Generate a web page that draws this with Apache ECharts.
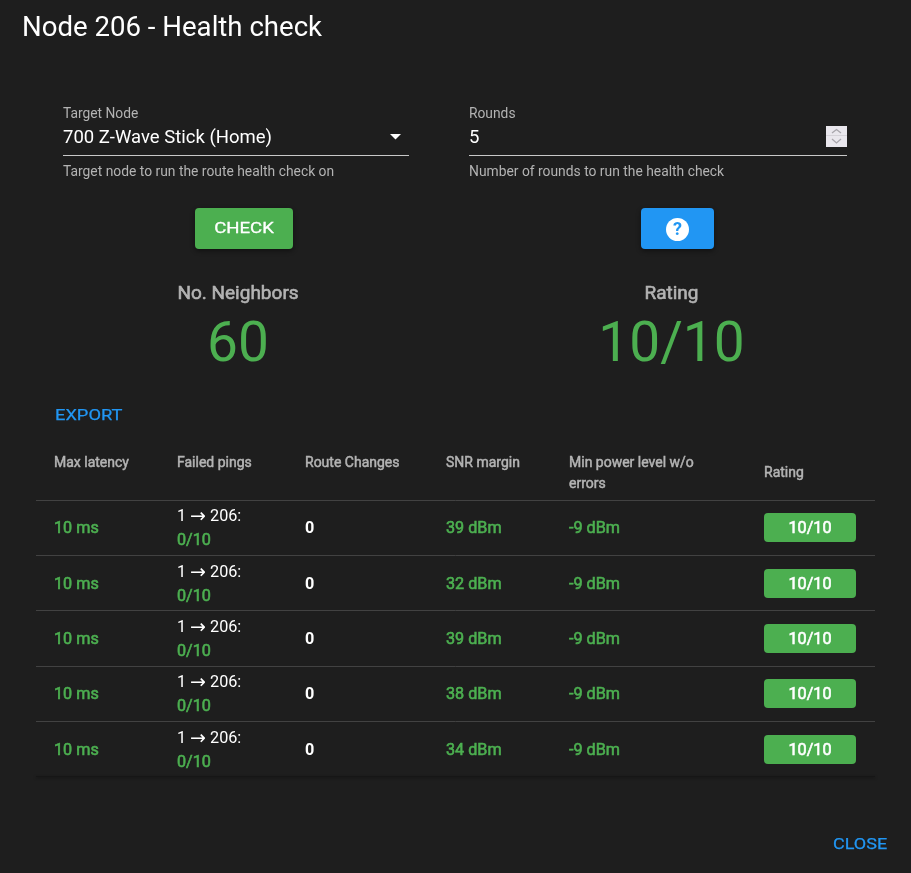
<!DOCTYPE html>
<html>
<head>
<meta charset="utf-8">
<title>Node 206 - Health check</title>
<style>
html, body { margin: 0; padding: 0; background: #1e1e1e; }
#main { width: 911px; height: 873px; }
</style>
<script src="https://cdn.jsdelivr.net/npm/echarts@6/dist/echarts.min.js"></script>
</head>
<body>
<div id="main"></div>
<script>
var dialogTitle = 'Node 206 - Health check';
var targetNode = '700 Z-Wave Stick (Home)';
var rounds = '5';
var neighbors = '60';
var overallRating = '10/10';

var columnTitles = ['Max latency', 'Failed pings', 'Route Changes', 'SNR margin', 'Min power level w/o\nerrors', 'Rating'];
var rowNames = ['Round 1', 'Round 2', 'Round 3', 'Round 4', 'Round 5'];
var latency = ['10 ms', '10 ms', '10 ms', '10 ms', '10 ms'];
var pingRoute = ['1 → 206:', '1 → 206:', '1 → 206:', '1 → 206:', '1 → 206:'];
var failedPings = ['0/10', '0/10', '0/10', '0/10', '0/10'];
var routeChanges = ['0', '0', '0', '0', '0'];
var snrMargin = ['39 dBm', '32 dBm', '39 dBm', '38 dBm', '34 dBm'];
var minPower = ['-9 dBm', '-9 dBm', '-9 dBm', '-9 dBm', '-9 dBm'];
var rowRating = ['10/10', '10/10', '10/10', '10/10', '10/10'];

var FONT = 'Roboto';
var GREEN = '#4caf50', BLUE = '#2196f3', GREY = '#b3b3b3', WHITE = '#ffffff';
var colX = [54, 177, 305, 446, 569, 764];

function txt(x, y, text, size, color, opt) {
    opt = opt || {};
    var style = {
        text: text, fill: color, fontFamily: FONT,
        fontSize: size, fontWeight: opt.weight || 400,
        lineHeight: opt.lineHeight,
        align: opt.align || 'left', verticalAlign: 'middle'
    };
    // 中等字重：没有 500 的字体，用细描边补一点
    if (opt.medium) {
        style.stroke = color;
        style.lineWidth = opt.medium;
    }
    if (opt.rich) style.rich = opt.rich;
    return { type: 'text', x: x, y: y + 2.5, scaleX: opt.scaleX || 1, silent: true, style: style };
}
function btn(x, y, w, h, color) {
    return {
        type: 'rect', silent: true,
        shape: { x: x, y: y, width: w, height: h, r: 4 },
        style: { fill: color, shadowBlur: 5, shadowOffsetY: 2, shadowColor: 'rgba(0,0,0,0.45)' }
    };
}
function hline(x1, x2, y, color) {
    return { type: 'line', silent: true, shape: { x1: x1, y1: y, x2: x2, y2: y }, style: { stroke: color, lineWidth: 1 } };
}

// 表格以外的部分
var chrome = [
    txt(22, 26.5, dialogTitle, 27.6, WHITE),

    txt(63, 112, 'Target Node', 13.8, GREY),
    txt(63, 136, targetNode, 18.5, WHITE),
    { type: 'polygon', silent: true, shape: { points: [[390, 134], [401, 134], [395.5, 139.5]] }, style: { fill: WHITE } },
    hline(63, 409, 155.5, '#c8c8c8'),
    txt(63, 170, 'Target node to run the route health check on', 13.85, GREY),

    txt(469, 112, 'Rounds', 13.8, GREY),
    txt(469, 136, rounds, 18.5, WHITE),
    { type: 'rect', silent: true, shape: { x: 826, y: 126, width: 21, height: 21 }, style: { fill: '#e9e7ed' } },
    hline(826, 847, 135.5, '#d4d2d8'),
    { type: 'polyline', silent: true, shape: { points: [[832, 133], [836.5, 129.5], [841, 133]] }, style: { stroke: '#a8a6ac', fill: null, lineWidth: 1.3 } },
    { type: 'polyline', silent: true, shape: { points: [[832, 139], [836.5, 143], [841, 139]] }, style: { stroke: '#a8a6ac', fill: null, lineWidth: 1.3 } },
    hline(469, 847, 155.5, '#c8c8c8'),
    txt(469, 170, 'Number of rounds to run the health check', 13.85, GREY),

    btn(195, 208, 98, 41, GREEN),
    txt(244, 226.5, 'CHECK', 14.5, WHITE, { align: 'center', scaleX: 1.28, medium: 0.3 }),
    btn(641, 208, 73, 41, BLUE),
    { type: 'circle', silent: true, shape: { cx: 677.5, cy: 229.5, r: 11.5 }, style: { fill: WHITE } },
    txt(677.5, 227.5, '?', 18, BLUE, { align: 'center', weight: 700 }),

    txt(238, 291.5, 'No. Neighbors', 19, GREY, { align: 'center', medium: 0.6 }),
    txt(238, 345, neighbors, 55, GREEN, { align: 'center' }),
    txt(671.5, 291.5, 'Rating', 19, GREY, { align: 'center', medium: 0.6 }),
    txt(671.5, 345, overallRating, 55, GREEN, { align: 'center' }),

    txt(55, 413.5, 'EXPORT', 15, BLUE, { scaleX: 1.22, medium: 0.25 }),
    txt(833, 842.5, 'CLOSE', 15, BLUE, { scaleX: 1.2, medium: 0.25 }),

    txt(colX[0], 461, columnTitles[0], 14, GREY, { medium: 0.5 }),
    txt(colX[1], 461, columnTitles[1], 14, GREY, { medium: 0.5 }),
    txt(colX[2], 461, columnTitles[2], 14, GREY, { medium: 0.5 }),
    txt(colX[3], 461, columnTitles[3], 14, GREY, { medium: 0.5 }),
    txt(colX[4], 471.5, columnTitles[4], 14, GREY, { lineHeight: 21, medium: 0.5 }),
    txt(colX[5], 471, columnTitles[5], 14, GREY, { medium: 0.5 })
];

// 每行一组：分隔线 + 单元格
function renderRow(params, api) {
    var i = params.dataIndex;
    var cy = api.coord([0, i])[1];
    var h = api.size([0, 1])[1];
    var top = cy - h / 2;
    var med = { medium: 0.6 };
    var kids = [];
    kids.push(hline(36, 875, Math.floor(top) + 0.5, '#424242'));
    kids.push(txt(colX[0], cy - 1, latency[i], 16.2, GREEN, med));
    kids.push(txt(colX[1], cy - 13, pingRoute[i].replace('→', '{arr|→}'), 16.2, WHITE, {
        rich: { arr: { fontFamily: 'DejaVu Sans', fontSize: 19, fill: WHITE } }
    }));
    kids.push(txt(colX[1], cy + 11, failedPings[i], 16.2, GREEN, med));
    kids.push(txt(colX[2], cy - 1, routeChanges[i], 16.2, WHITE, { weight: 700 }));
    kids.push(txt(colX[3], cy - 1, snrMargin[i], 16.2, GREEN, med));
    kids.push(txt(colX[4], cy - 1, minPower[i], 16.2, GREEN, med));
    kids.push({
        type: 'rect', silent: true,
        shape: { x: colX[5], y: Math.round(cy - 14.5), width: 92, height: 29, r: 4 },
        style: { fill: GREEN }
    });
    kids.push(txt(colX[5] + 46, cy - 1, rowRating[i], 16.2, WHITE, { align: 'center', medium: 0.6 }));
    if (i == rowNames.length - 1) {
        kids.push({
            type: 'rect', silent: true,
            shape: { x: 36, y: top + h - 1, width: 839, height: 1 },
            style: { fill: '#161616', shadowBlur: 3, shadowOffsetY: 1, shadowColor: 'rgba(0,0,0,0.5)' }
        });
    }
    return { type: 'group', children: kids };
}

var myChart = echarts.init(document.getElementById('main'), null, { renderer: 'canvas' });
myChart.setOption({
    backgroundColor: '#1e1e1e',
    animation: false,
    tooltip: { show: false },
    grid: { left: 0, top: 500, width: 911, height: 277 },
    xAxis: { type: 'value', min: 0, max: 911, show: false },
    yAxis: { type: 'category', inverse: true, data: rowNames, show: false },
    graphic: { elements: chrome },
    series: [{
        type: 'custom',
        clip: false,
        silent: true,
        renderItem: renderRow,
        encode: { x: 0, y: 1 },
        data: rowNames.map(function (name, i) { return [0, i]; })
    }]
});
</script>
</body>
</html>
